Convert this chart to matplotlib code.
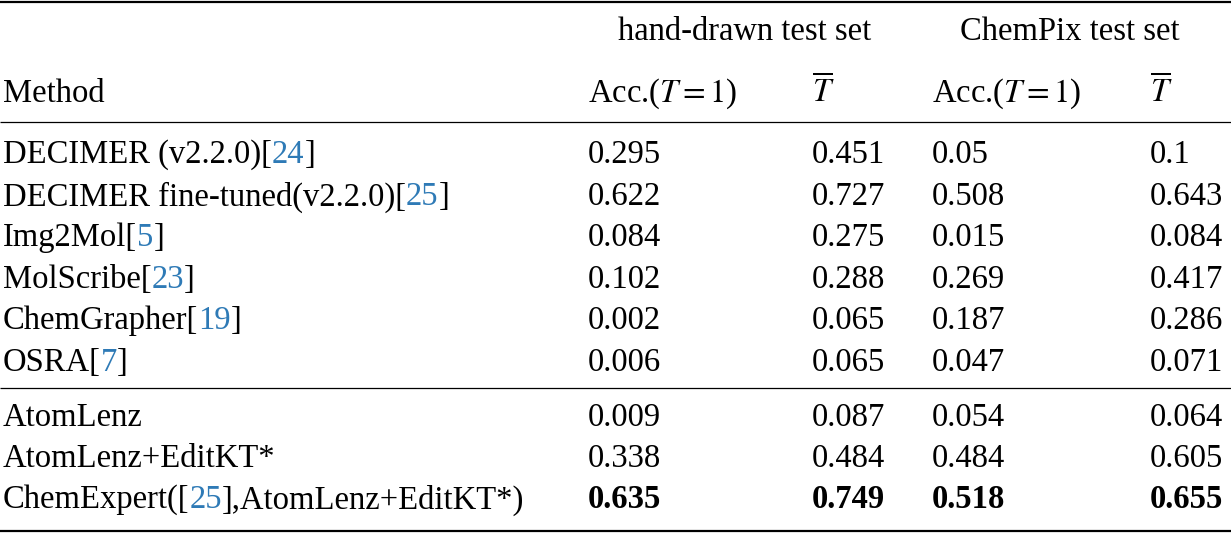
import matplotlib.pyplot as plt

plt.rcParams['font.family'] = ['Liberation Serif', 'DejaVu Serif']
plt.rcParams['mathtext.fontset'] = 'stix'

methods = [
    ["DECIMER (v2.2.0)[", ("24",), "]"],
    ["DECIMER fine-tuned(v2.2.0)[", ("25",), "]"],
    ["Img2Mol[", ("5",), "]"],
    ["MolScribe[", ("23",), "]"],
    ["ChemGrapher[", ("19",), "]"],
    ["OSRA[", ("7",), "]"],
    ["AtomLenz"],
    ["AtomLenz+EditKT*"],
    ["ChemExpert([", ("25",), "],AtomLenz+EditKT*)"],
]
hand_acc = ["0.295", "0.622", "0.084", "0.102", "0.002", "0.006", "0.009", "0.338", "0.635"]
hand_t = ["0.451", "0.727", "0.275", "0.288", "0.065", "0.065", "0.087", "0.484", "0.749"]
chem_acc = ["0.05", "0.508", "0.015", "0.269", "0.187", "0.047", "0.054", "0.484", "0.518"]
chem_t = ["0.1", "0.643", "0.084", "0.417", "0.286", "0.071", "0.064", "0.605", "0.655"]
bold_row = 8

W, H = 1231, 533
fig = plt.figure(figsize=(W / 100, H / 100), dpi=100)
ax = fig.add_axes([0, 0, 1, 1])
ax.set_xlim(0, W)
ax.set_ylim(H, 0)
ax.axis('off')
fs = 23.5
blue = '#2e7ab6'

def hline(y, lw):
    ax.plot([0, W], [y, y], color='black', lw=lw, solid_capstyle='butt')

hline(2, 1.6)
hline(122, 0.9)
hline(388, 0.9)
hline(531, 1.6)

ax.text(745, 32, "hand-drawn test set", fontsize=fs, ha='center', va='center')
ax.text(1070, 32, "ChemPix test set", fontsize=fs, ha='center', va='center')
ax.text(3, 94, "Method", fontsize=fs, va='center')
for x in (588, 932):
    ax.text(x, 94, r"Acc.($T=1$)", fontsize=fs, va='center')
for x in (812, 1150):
    ax.text(x, 92, r"$\overline{T}$", fontsize=fs, va='center')

rows_y = [155, 197, 238, 280, 321, 363, 418, 459, 500]
renderer = fig.canvas.get_renderer()
for i, parts in enumerate(methods):
    y = rows_y[i]
    x = 3
    for p in parts:
        if isinstance(p, tuple):
            s, c = p[0], blue
        else:
            s, c = p, 'black'
        t = ax.text(x, y, s, fontsize=fs, va='center', color=c)
        bb = t.get_window_extent(renderer)
        x += bb.width
    fw = 'bold' if i == bold_row else 'normal'
    for xc, col in ((588, hand_acc), (812, hand_t), (932, chem_acc), (1150, chem_t)):
        ax.text(xc, y, col[i], fontsize=fs, va='center', fontweight=fw)

fig.savefig('out.png', dpi=100)
